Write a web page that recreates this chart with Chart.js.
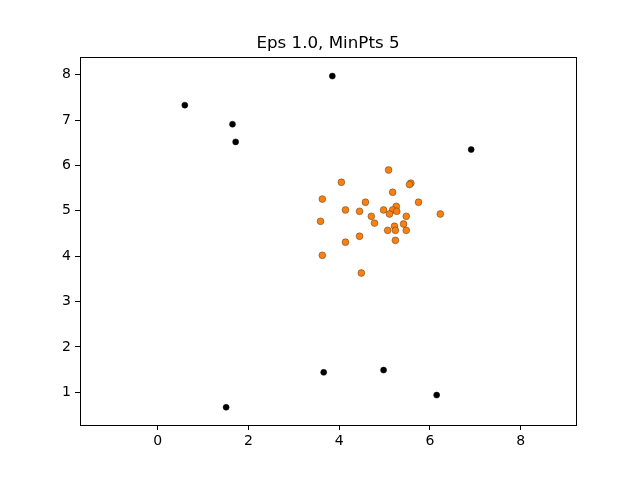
<!DOCTYPE html>
<html>
<head>
<meta charset="utf-8">
<script src="https://cdn.jsdelivr.net/npm/chart.js@4/dist/chart.umd.min.js"></script>
<style>
  html, body { margin: 0; padding: 0; background: #fff; }
  #wrap { width: 640px; height: 478px; }
</style>
</head>
<body>
<div id="wrap"><canvas id="dbscanChart" width="640" height="478"></canvas></div>
<script>
// Cluster points (orange)
const clusterX = [5.09, 4.05, 5.58, 5.55, 5.18, 3.63, 4.58, 5.75, 5.26, 4.14, 4.45, 4.98, 5.18, 5.27, 5.11,
                  4.71, 5.48, 6.23, 3.59, 4.78, 5.42, 5.22, 5.07, 5.24, 5.48, 4.45, 4.14, 5.24, 3.63, 4.49];
const clusterY = [5.90, 5.63, 5.61, 5.58, 5.41, 5.26, 5.19, 5.19, 5.10, 5.02, 4.99, 5.02, 5.02, 4.99, 4.93,
                  4.88, 4.88, 4.93, 4.77, 4.73, 4.71, 4.66, 4.57, 4.57, 4.57, 4.44, 4.31, 4.35, 4.02, 3.63];

// Noise points (black)
const noiseX = [0.60, 1.65, 1.72, 3.85, 6.91, 1.51, 3.66, 4.98, 6.15];
const noiseY = [7.33, 6.91, 6.52, 7.97, 6.35, 0.67, 1.44, 1.49, 0.94];

// Axis ticks and ranges
const xTicks = [0, 2, 4, 6, 8];
const yTicks = [1, 2, 3, 4, 5, 6, 7, 8];
const xRange = [-1.71, 9.22];
const yRange = [0.28, 8.39];

const chartTitle = 'Eps 1.0, MinPts 5';

function toPoints(xs, ys) {
    return xs.map((x, i) => ({ x: x, y: ys[i] }));
}

// Draw the top and right spines like matplotlib
const frameBox = {
    id: 'frameBox',
    afterDatasetsDraw(chart) {
        const a = chart.chartArea;
        const ctx = chart.ctx;
        ctx.save();
        ctx.strokeStyle = '#000';
        ctx.lineWidth = 1;
        ctx.strokeRect(Math.round(a.left) + 0.5, Math.round(a.top) + 0.5,
                       Math.round(a.right - a.left), Math.round(a.bottom - a.top));
        ctx.restore();
    }
};

const tickFont = { family: 'DejaVu Sans', size: 14 };

new Chart(document.getElementById('dbscanChart').getContext('2d'), {
    type: 'scatter',
    data: {
        datasets: [
            {
                label: 'cluster',
                data: toPoints(clusterX, clusterY),
                backgroundColor: '#ff7f0e',
                borderColor: 'rgba(60, 60, 40, 0.8)',
                borderWidth: 0.6,
                pointRadius: 3.4,
                pointHoverRadius: 3.4
            },
            {
                label: 'noise',
                data: toPoints(noiseX, noiseY),
                backgroundColor: '#000',
                borderColor: '#000',
                borderWidth: 0.5,
                pointRadius: 3,
                pointHoverRadius: 3
            }
        ]
    },
    options: {
        responsive: false,
        animation: false,
        events: [],
        layout: { padding: { left: 0, right: 64, top: 0, bottom: 0 } },
        scales: {
            x: {
                type: 'linear',
                min: xRange[0],
                max: xRange[1],
                afterBuildTicks: (scale) => { scale.ticks = xTicks.map(v => ({ value: v })); },
                afterFit: (scale) => { scale.height = 53; },
                grid: { drawOnChartArea: false, drawTicks: true, tickLength: 5, color: '#000', tickWidth: 1 },
                border: { display: true, color: '#000', width: 1 },
                ticks: { color: '#000', font: tickFont, padding: 3, maxRotation: 0 }
            },
            y: {
                type: 'linear',
                min: yRange[0],
                max: yRange[1],
                afterBuildTicks: (scale) => { scale.ticks = yTicks.map(v => ({ value: v })); },
                afterFit: (scale) => { scale.width = 80; },
                grid: { drawOnChartArea: false, drawTicks: true, tickLength: 5, color: '#000', tickWidth: 1 },
                border: { display: true, color: '#000', width: 1 },
                ticks: { color: '#000', font: tickFont, padding: 4 }
            }
        },
        plugins: {
            legend: { display: false },
            tooltip: { enabled: false },
            title: {
                display: true,
                fullSize: false,
                text: chartTitle,
                color: '#000',
                font: { family: 'DejaVu Sans', size: 16.7, weight: 'normal', lineHeight: 1.2 },
                padding: { top: 34, bottom: 3 }
            }
        }
    },
    plugins: [frameBox]
});
</script>
</body>
</html>
